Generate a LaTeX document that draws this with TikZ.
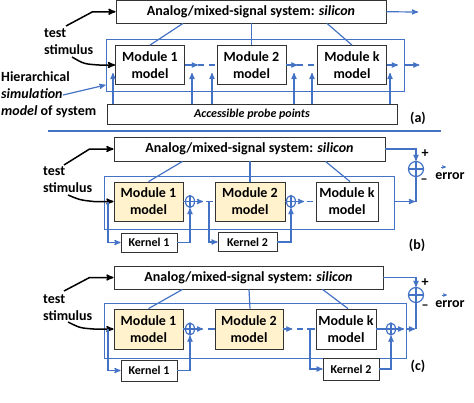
\documentclass[tikz,border=0pt]{standalone}
\usepackage{fontspec}
\setmainfont{Carlito}
\usetikzlibrary{%
  arrows,%
  shapes,%
  positioning,%
  calc%
}
\definecolor{sigblue}{RGB}{68,114,196}
\definecolor{modfill}{RGB}{255,242,204}

\begin{document}
\begin{tikzpicture}
  [
  x=1pt, y=-1pt,
  font=\fontsize{14}{17}\selectfont\bfseries, >=stealth',
  blk/.style={rectangle, draw=black!80, line width=0.8pt, fill=white, inner sep=0pt, align=center},
  modnode/.style={blk, minimum width=69pt, minimum height=39pt},
  simnode/.style={modnode, fill=modfill},
  kernode/.style={blk, minimum width=56pt, minimum height=19pt, font=\fontsize{12}{14}\selectfont\bfseries},
  hiernode/.style={rectangle, draw=sigblue, line width=0.8pt, inner sep=0pt},
  sumnode/.style={ellipse, draw=sigblue, line width=1.2pt, minimum width=9pt, minimum height=12pt, inner sep=0pt,
    path picture={\draw[sigblue, line width=1.2pt] (path picture bounding box.north) -- (path picture bounding box.south)
      (path picture bounding box.west) -- (path picture bounding box.east);}},
  errnode/.style={sumnode, circle, minimum size=15pt},
  sig/.style={draw=sigblue, line width=1.2pt},
  stim/.style={draw=black, line width=1.5pt},
  txt/.style={inner sep=0pt, align=left},
  ]
  \useasboundingbox (0,0) rectangle (474,402);

  % (a) probe points
  \node[blk, minimum width=270pt, minimum height=22.5pt] (silA) at (251,11.75) {Analog/mixed-signal system: \textit{silicon}};
  \node[hiernode, minimum width=298pt, minimum height=52pt] (hierA) at (255,65) {};
  \node[modnode] (modA1) at (150,65) {Module 1\\model};
  \node[modnode] (modA2) at (251.5,65) {Module 2\\model};
  \node[modnode] (modAk) at (352,65) {Module k\\model};
  \node[blk, minimum width=290pt, minimum height=20pt, font=\fontsize{12}{14}\selectfont\bfseries\itshape] (probeA) at (252,114) {Accessible probe points};
  \node[txt, anchor=west] (stimA) at (44,42) {test\\stimulus};
  \node[txt, anchor=west] (hierT) at (1,95) {Hierarchical\\\textit{simulation}\\\textit{model} of system};
  \node (labA) at (418,118) {(a)};

  \coordinate (sA1) at (66,26);
  \coordinate (sA2) at (72,57);
  \coordinate (hA) at (63,95);
  \coordinate (outA) at (418,12);
  \draw[stim,->] (sA1) -- ([xshift=-23pt]silA.west) -- (silA.west);
  \draw[stim,->] (sA2) .. controls (84,64) .. ([xshift=-16pt]modA1.west) -- (modA1.west);
  \draw[sig,->] (hA) -- (hierA.west |- 0,85);
  \draw[sig,->] (silA.east) -- (outA);

  \draw[sig] ([xshift=-68pt]silA.south) -- (modA1.north);
  \draw[sig] (modA2.north |- silA.south) -- (modA2.north);
  \draw[sig] ([xshift=76pt]silA.south) -- (modAk.north);

  \draw[sig,->] (modA1.east) -- ++(13,0) coordinate (a12);
  \draw[sig, dash pattern=on 6pt off 5pt] (a12) -- (modA2.west);
  \draw[sig,->] (modA2.east) -- ++(11,0) coordinate (a2k);
  \draw[sig, dash pattern=on 6pt off 5pt] (a2k) -- (modAk.west);
  \draw[sig,->] (modAk.east) -- ++(11,0);
  \draw[sig,->] (hierA.east |- modAk.east) -- ++(15,0);

  \foreach \px in {113,192,212,294,312,390}
    \draw[sig,->] (\px,0 |- probeA.north) -- (\px,73);

  \draw[sig] (48,131) -- (441,131);

  % (b) kernels between modules
  \node[blk, minimum width=271pt, minimum height=24pt] (silB) at (249.5,149) {Analog/mixed-signal system: \textit{silicon}};
  \node[hiernode, minimum width=290pt, minimum height=53pt] (hierB) at (249,202.5) {};
  \node[simnode] (modB1) at (148.5,201.5) {Module 1\\model};
  \node[simnode, minimum width=70pt] (modB2) at (250,201.5) {Module 2\\model};
  \node[modnode, minimum width=62pt] (modBk) at (347,201.5) {Module k\\model};
  \node[sumnode] (sumB1) at (190,201.5) {};
  \node[sumnode] (sumB2) at (291,201.5) {};
  \node[kernode] (kerB1) at (149,242.5) {Kernel 1};
  \node[kernode, minimum width=59pt] (kerB2) at (247.5,242) {Kernel 2};
  \node[errnode] (errB) at (416,169) {};
  \node[txt, anchor=west] (stimB) at (43,180) {test\\stimulus};
  \node (plusB) at (425,154) {+};
  \node (minB) at (424,181) {--};
  \node (errtB) at (450,176) {error};
  \node (labB) at (417,245) {(b)};

  \coordinate (sB1) at (64,165);
  \coordinate (sB2) at (68,195);
  \coordinate (brB1) at (108,201.5);
  \coordinate (brB2) at (209,201.5);
  \draw[stim,->] (sB1) -- ([xshift=-24pt]silB.west) -- (silB.west);
  \draw[stim,->] (sB2) .. controls (80,200) .. ([xshift=-20pt]modB1.west) -- (modB1.west);
  \draw[sig,->] (brB1) |- (kerB1.west);
  \draw[sig,->] (kerB1.east) -| (sumB1.south);
  \draw[sig] (modB1.east) -- (sumB1.west);
  \draw[sig,->] (sumB1.east) -- ++(8,0);
  \draw[sig] ([xshift=-3pt]brB2) -- ([xshift=4pt]brB2);
  \draw[sig,->] (brB2) |- (kerB2.west);
  \draw[sig,->] (kerB2.east) -| (sumB2.south);
  \draw[sig] (modB2.east) -- (sumB2.west);
  \draw[sig,->] (sumB2.east) -- ++(8,0);
  \draw[sig] ([xshift=-9pt]modBk.west) -- ([xshift=-3pt]modBk.west);

  \draw[sig] ([xshift=-67pt]silB.south) -- (modB1.north);
  \draw[sig] (modB2.north |- silB.south) -- (modB2.north);
  \draw[sig] ([xshift=76pt]silB.south) -- ([xshift=3pt]modBk.north);

  \draw[sig,->] (silB.east) -| (errB.north);
  \draw[sig,->] (hierB.east |- modBk.east) -- ([xshift=-1pt]errB.south |- modBk.east);
  \draw[sig] (errB.south |- modBk.east) -- (errB.south);
  \draw[sig,->, line width=0.5pt] (441,167) -- (446,167);

  % (c) kernel after module k
  \node[blk, minimum width=269pt, minimum height=23pt] (silC) at (248.5,277.5) {Analog/mixed-signal system: \textit{silicon}};
  \node[hiernode, minimum width=302pt, minimum height=55pt] (hierC) at (255,331) {};
  \node[simnode, minimum height=40pt] (modC1) at (148.5,329) {Module 1\\model};
  \node[simnode, minimum width=68pt, minimum height=40pt] (modC2) at (249,329) {Module 2\\model};
  \node[modnode, minimum width=60pt, minimum height=40pt] (modCk) at (346,329) {Module k\\model};
  \node[sumnode] (sumC1) at (190,329) {};
  \node[sumnode] (sumCk) at (391,329) {};
  \node[kernode, minimum height=21pt] (kerC1) at (149,370.5) {Kernel 1};
  \node[kernode, minimum height=22pt] (kerC2) at (351,369) {Kernel 2};
  \node[errnode] (errC) at (416,295) {};
  \node[txt, anchor=west] (stimC) at (43,307.5) {test\\stimulus};
  \node (plusC) at (425,283) {+};
  \node (minC) at (425,307) {--};
  \node (errtC) at (450,304) {error};
  \node (labC) at (418,366) {(c)};

  \coordinate (sC1) at (64,291);
  \coordinate (sC2) at (68,322);
  \coordinate (brC1) at (108,329);
  \coordinate (brC2) at (310,329);
  \draw[stim,->] (sC1) -- ([xshift=-24pt]silC.west) -- (silC.west);
  \draw[stim,->] (sC2) .. controls (80,328) .. ([xshift=-20pt]modC1.west) -- (modC1.west);
  \draw[sig,->] (brC1) |- (kerC1.west);
  \draw[sig,->] (kerC1.east) -| (sumC1.south);
  \draw[sig] (modC1.east) -- (sumC1.west);
  \draw[sig,->] (sumC1.east) -- ++(8,0);
  \draw[sig] ([xshift=-7pt]modC2.west) -- (modC2.west);
  \draw[sig,->] (modC2.east) -- ++(9,0);
  \draw[sig] ([xshift=-13pt]brC2) -- ([xshift=-7pt]brC2);
  \draw[sig] ([xshift=-3pt]brC2) -- ([xshift=5pt]brC2);
  \draw[sig,->] (brC2) |- (kerC2.west);
  \draw[sig,->] (kerC2.east) -| (sumCk.south);
  \draw[sig] (modCk.east) -- (sumCk.west);
  \draw[sig,->] (sumCk.east) -- ++(8,0);

  \draw[sig] ([xshift=-66pt]silC.south) -- (modC1.north);
  \draw[sig] (modC2.north |- silC.south) -- ([xshift=1pt]modC2.north);
  \draw[sig] ([xshift=74pt]silC.south) -- ([xshift=2pt]modCk.north);

  \draw[sig,->] (silC.east) -| (errC.north);
  \draw[sig,->] (hierC.east |- modCk.east) -- ([xshift=-1pt]errC.south |- modCk.east);
  \draw[sig] (errC.south |- modCk.east) -- (errC.south);
  \draw[sig,->, line width=0.5pt] (442,295) -- (447,295);
\end{tikzpicture}
\end{document}
